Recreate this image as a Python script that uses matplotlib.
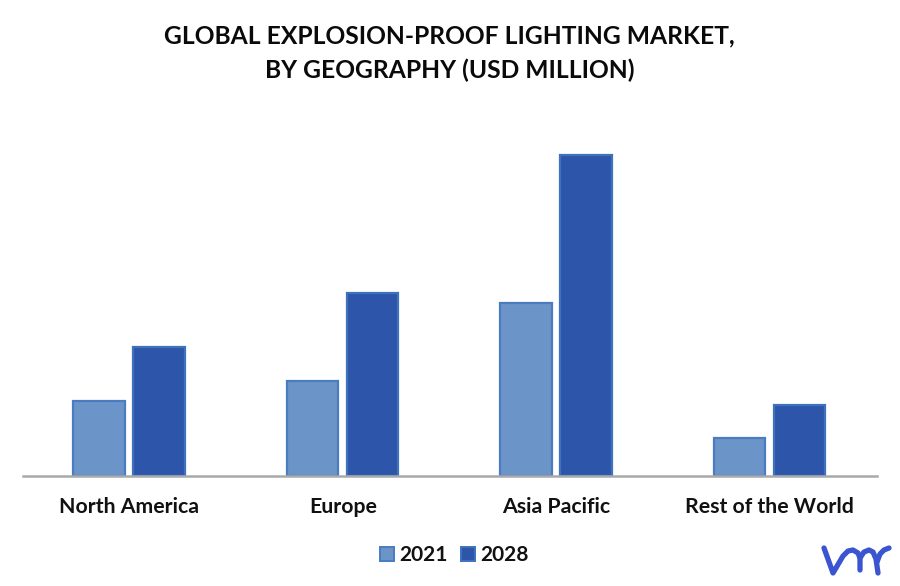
import numpy as np
import matplotlib
matplotlib.use("Agg")
import matplotlib.pyplot as plt
from matplotlib.lines import Line2D
from matplotlib.patches import Rectangle

plt.rcParams['font.family'] = ['Lato', 'DejaVu Sans']

regions = ["North America", "Europe", "Asia Pacific", "Rest of the World"]
values_2021 = [75, 95, 173, 38]
values_2028 = [129, 183, 321, 71]

W, H = 900, 586
fig = plt.figure(figsize=(W / 100, H / 100), dpi=100)

# axes placed in pixels: baseline at y=476, spans x 23..877
ax = fig.add_axes([23 / W, 1 - 476 / H, 854 / W, 340 / H])
x = np.arange(len(regions))
bar_w = 0.241
off = 0.1405
ax.bar(x - off, values_2021, bar_w, color="#6b94c9", edgecolor="#4a7cc0", linewidth=1.6)
ax.bar(x + off, values_2028, bar_w, color="#2d56ab", edgecolor="#3f72bd", linewidth=1.6)

ax.set_xlim(-0.4975, 3.5025)
ax.set_ylim(0, 340)
ax.set_yticks([])
ax.set_xticks(x)
ax.set_xticklabels(regions, fontsize=15.3, fontweight="bold", color="#111111")
ax.tick_params(axis="x", length=0, pad=15)
for s in ["top", "left", "right"]:
    ax.spines[s].set_visible(False)
ax.spines["bottom"].set_color("#a9a9a9")
ax.spines["bottom"].set_linewidth(1.8)

fig.text(449.5 / W, 1 - 53 / H, "GLOBAL EXPLOSION-PROOF LIGHTING MARKET,\nBY GEOGRAPHY (USD MILLION)",
         ha="center", va="center", fontsize=17.7, fontweight="bold", color="#0a0a0a", linespacing=1.58)

# legend by hand so it sits where the original has it
for px, col, edge, label in [(380, "#6b94c9", "#4a7cc0", "2021"), (461, "#2d56ab", "#3f72bd", "2028")]:
    fig.add_artist(Rectangle((px / W, 1 - 561 / H), 14 / W, 14 / H, transform=fig.transFigure,
                             facecolor=col, edgecolor=edge, linewidth=1.4))
    fig.text((px + 19.5) / W, 1 - 555 / H, label, ha="left", va="center", fontsize=15,
             fontweight="bold", color="#111111")

# vmr logo
logo = "#3b55d0"
strokes = [
    [(824, 548), (833, 573), (843, 556), (848, 551), (853, 550), (858, 553), (860, 558), (860, 570)],
    [(860, 558), (864, 552), (869, 550), (873, 552), (876, 559), (878, 573)],
    [(877, 562), (880, 554), (884, 550), (889, 548)],
]
for st in strokes:
    xs = [p[0] / W for p in st]
    ys = [1 - p[1] / H for p in st]
    fig.add_artist(Line2D(xs, ys, transform=fig.transFigure, color=logo, linewidth=3.8,
                          solid_capstyle="round", solid_joinstyle="round"))

fig.savefig("out.png", dpi=100)
